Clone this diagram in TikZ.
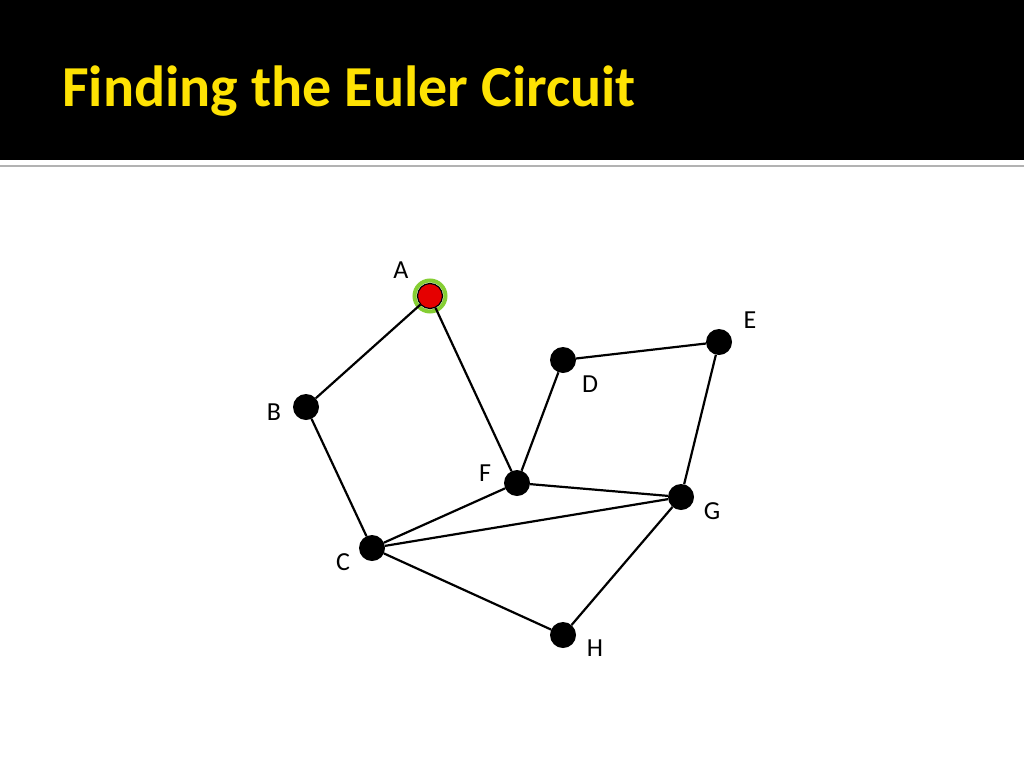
\documentclass[tikz,border=0pt]{standalone}
\usepackage{fontspec}
\setmainfont{Carlito}
\begin{document}
\begin{tikzpicture}[x=1pt,y=-1pt,
  dot/.style={circle,fill=black,inner sep=0pt,minimum size=26pt},
  lab/.style={font=\fontsize{26}{26}\selectfont},
  edge/.style={line width=2.2pt}]
\useasboundingbox (0,0) rectangle (1024,768);
\fill[white] (0,0) rectangle (1024,768);
\fill[black] (0,0) rectangle (1024,160);
\fill[gray!60] (0,164.5) rectangle (1024,167);
\node[anchor=base west,inner sep=0pt,text=yellow!85!orange,font=\fontsize{58}{58}\selectfont\bfseries] (title) at (62,106) {Finding the Euler Circuit};
\node[circle,fill=black,inner sep=0pt,minimum size=26pt] (B) at (306,407) {};
\node[dot] (C) at (372,548) {};
\node[dot] (D) at (563,360) {};
\node[dot] (E) at (719,342) {};
\node[dot] (F) at (517,483) {};
\node[dot] (G) at (681,497) {};
\node[dot] (H) at (563,635) {};
\node[circle,draw=green!60!black!60!yellow!80,line width=4pt,inner sep=0pt,minimum size=31pt] (Aring) at (430,296) {};
\node[circle,fill=red!90!black,draw=black,line width=1.2pt,inner sep=0pt,minimum size=25pt] (A) at (430,296) {};
\draw[edge] (A) -- (B); \draw[edge] (A) -- (F); \draw[edge] (B) -- (C);
\draw[edge] (C) -- (F); \draw[edge] (C) -- (G); \draw[edge] (C) -- (H);
\draw[edge] (F) -- (D); \draw[edge] (D) -- (E); \draw[edge] (E) -- (G);
\draw[edge] (F) -- (G); \draw[edge] (G) -- (H);
\node[lab] (lA) at (401,270) {A};
\node[lab] (lB) at (274,412) {B};
\node[lab] (lC) at (343,562) {C};
\node[lab] (lD) at (590,384) {D};
\node[lab] (lE) at (750,320) {E};
\node[lab] (lF) at (485,473) {F};
\node[lab] (lG) at (712,511) {G};
\node[lab] (lH) at (595,648) {H};
\end{tikzpicture}
\end{document}
